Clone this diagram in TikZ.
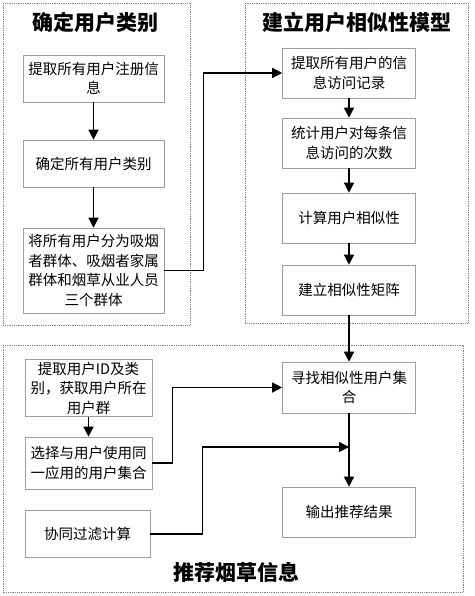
\documentclass[tikz,border=0pt]{standalone}
\usepackage{fontspec}
\newfontfamily\cjk{Noto Sans CJK SC}
\usetikzlibrary{arrows.meta}

\begin{document}
\begin{tikzpicture}[
    x=1pt, y=-1pt,
    font=\cjk\fontsize{14.5}{19.5}\selectfont,
    box/.style={draw=gray!75, line width=0.6pt, align=center, inner sep=2pt},
    group/.style={draw=gray, densely dotted, line width=0.8pt},
    title/.style={font=\cjk\bfseries\fontsize{21}{24}\selectfont},
    flow/.style={-{Triangle[length=10pt,width=10pt]}, line width=1.4pt}
]
    \useasboundingbox (0,0) rectangle (474,596);

    % Three groups
    \draw[group] (3,3) rectangle (190,325);
    \draw[group] (245,3) rectangle (468,323);
    \draw[group] (3,345) rectangle (463,592);

    \node[title] (t1) at (95,22) {确定用户类别};
    \node[title] (t2) at (357,22) {建立用户相似性模型};
    \node[title] (t3) at (236,572) {推荐烟草信息};

    % Left group: user classes
    \node[box, minimum width=141pt, minimum height=47pt] (a1) at (93.5,78.5) {提取所有用户注册信\\息};
    \node[box, minimum width=141pt, minimum height=47pt] (a2) at (93.5,163.5) {确定所有用户类别};
    \node[box, minimum width=141pt, minimum height=85pt] (a3) at (93.5,270.5)
        {将所有用户分为吸烟\\者群体、吸烟者家属\\群体和烟草从业人员\\三个群体};

    % Right group: similarity model
    \foreach \name/\y/\txt in {b1/73/{提取所有用户的信\\息访问记录},
                               b2/143/{统计用户对每条信\\息访问的次数},
                               b3/218/{计算用户相似性},
                               b4/290/{建立相似性矩阵}} {
        \node[box, minimum width=133pt, minimum height=50pt] (\name) at (349,\y) {\txt};
    }

    % Bottom group: recommendation
    \node[box, minimum width=127pt, minimum height=50pt] (c1) at (88.5,388) {提取用户ID及类\\别，获取用户所在\\用户群};
    \node[box, minimum width=127pt, minimum height=52pt] (c2) at (88.5,463) {选择与用户使用同\\一应用的用户集合};
    \node[box, minimum width=125pt, minimum height=47pt] (c3) at (87.5,534) {协同过滤计算};
    \node[box, minimum width=133pt, minimum height=51pt] (d1) at (349,387.5) {寻找相似性用户集\\合};
    \node[box, minimum width=133pt, minimum height=50pt] (d2) at (349,512) {输出推荐结果};
    \coordinate (j) at (349,447);

    % Connections
    \draw[flow] (a1) -- (a2);
    \draw[flow] (a2) -- (a3);
    \draw[flow] (a3.east) -- ++(39,0) |- (b1);
    \draw[flow] (b1) -- (b2);
    \draw[flow] (b2) -- (b3);
    \draw[flow] (b3) -- (b4);
    \draw[flow] (b4) -- (d1);
    \draw[flow] (c1) -- (c2);
    \draw[flow] (c2.east) -- ++(20,0) |- (d1);
    \draw[flow] (c3.east) -- ++(52,0) |- (j);
    \draw[flow] (d1) -- (d2);

\end{tikzpicture}
\end{document}
